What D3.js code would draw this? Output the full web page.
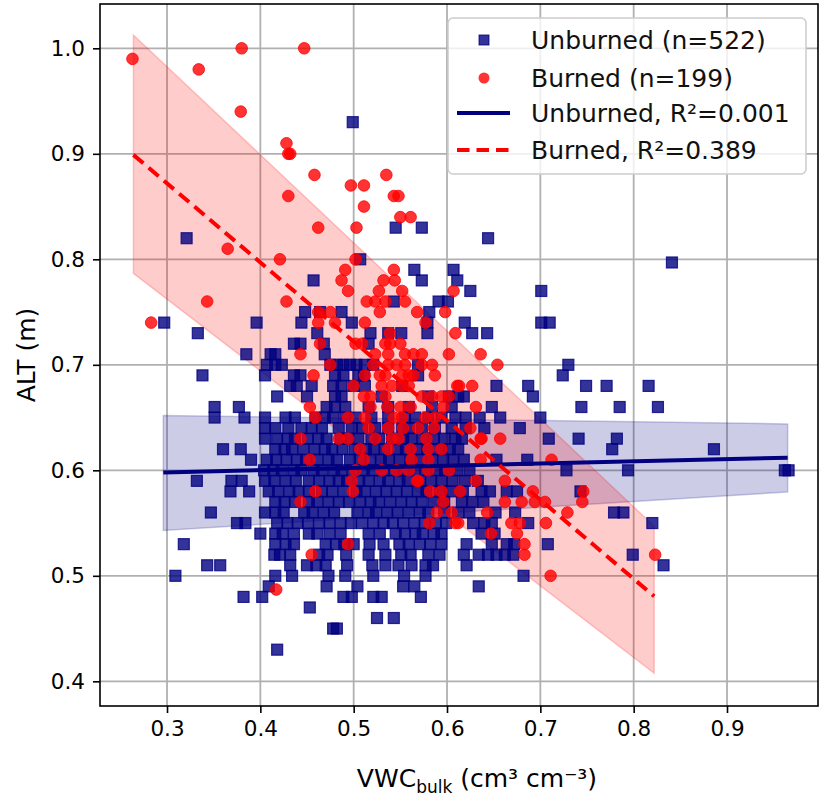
<!DOCTYPE html>
<html>
<head>
<meta charset="utf-8">
<script src="https://d3js.org/d3.v7.min.js"></script>
<style>
  body { margin: 0; background: #fff; }
  svg { font-family: "DejaVu Sans", sans-serif; }
</style>
</head>
<body>
<div id="chart"></div>
<script>
// rows of points: [ALT (m), [VWC values ...]]
const unburned = [
  [0.93, [0.499]],
  [0.83, [0.545, 0.573]],
  [0.82, [0.321, 0.644]],
  [0.80, [0.507]],
  [0.797, [0.841]],
  [0.79, [0.565, 0.607]],
  [0.78, [0.457, 0.573, 0.611]],
  [0.77, [0.625, 0.701]],
  [0.76, [0.543, 0.591, 0.601]],
  [0.75, [0.448, 0.464, 0.487, 0.581]],
  [0.74, [0.297, 0.396, 0.444, 0.498, 0.579, 0.619, 0.701, 0.710]],
  [0.73, [0.333, 0.461, 0.518, 0.537, 0.551, 0.579, 0.627, 0.643]],
  [0.72, [0.436, 0.443, 0.468, 0.516]],
  [0.71, [0.385, 0.411, 0.416, 0.469]],
  [0.70, [0.407, 0.416, 0.423, 0.475, 0.482, 0.489, 0.496, 0.503, 0.512, 0.521, 0.569, 0.730]],
  [0.69, [0.338, 0.405, 0.436, 0.443, 0.480, 0.489, 0.505, 0.511, 0.569, 0.724]],
  [0.68, [0.432, 0.439, 0.455, 0.478, 0.487, 0.500, 0.512, 0.552, 0.653, 0.687, 0.749, 0.771, 0.816]],
  [0.67, [0.418, 0.450, 0.480, 0.487, 0.530, 0.580, 0.602, 0.612, 0.618, 0.692]],
  [0.66, [0.351, 0.377, 0.471, 0.480, 0.491, 0.516, 0.537, 0.559, 0.584, 0.605, 0.648, 0.744, 0.785, 0.826]],
  [0.65, [0.351, 0.383, 0.405, 0.427, 0.437, 0.459, 0.469, 0.478, 0.491, 0.502, 0.519, 0.537, 0.555, 0.566, 0.580, 0.594, 0.609, 0.620, 0.635, 0.657, 0.700]],
  [0.64, [0.405, 0.416, 0.430, 0.444, 0.455, 0.466, 0.484, 0.498, 0.509, 0.523, 0.537, 0.552, 0.559, 0.573, 0.587, 0.605, 0.620, 0.640, 0.678]],
  [0.63, [0.405, 0.418, 0.429, 0.437, 0.451, 0.462, 0.471, 0.486, 0.494, 0.505, 0.519, 0.527, 0.541, 0.553, 0.562, 0.574, 0.586, 0.597, 0.609, 0.616, 0.709, 0.741, 0.782]],
  [0.62, [0.360, 0.379, 0.416, 0.426, 0.434, 0.446, 0.458, 0.469, 0.477, 0.488, 0.501, 0.513, 0.522, 0.533, 0.547, 0.556, 0.568, 0.579, 0.591, 0.603, 0.612, 0.777, 0.886]],
  [0.61, [0.390, 0.407, 0.417, 0.428, 0.439, 0.449, 0.461, 0.473, 0.482, 0.496, 0.507, 0.518, 0.529, 0.538, 0.549, 0.561, 0.572, 0.584, 0.596, 0.607, 0.618, 0.653, 0.686]],
  [0.60, [0.404, 0.414, 0.423, 0.436, 0.444, 0.457, 0.466, 0.479, 0.487, 0.499, 0.511, 0.520, 0.532, 0.544, 0.553, 0.565, 0.577, 0.589, 0.598, 0.611, 0.624, 0.728, 0.794, 0.962, 0.966]],
  [0.59, [0.332, 0.369, 0.380, 0.405, 0.415, 0.427, 0.438, 0.452, 0.463, 0.474, 0.484, 0.493, 0.506, 0.516, 0.528, 0.537, 0.549, 0.558, 0.571, 0.583, 0.594, 0.606, 0.619, 0.633]],
  [0.58, [0.368, 0.388, 0.409, 0.419, 0.431, 0.441, 0.452, 0.466, 0.477, 0.489, 0.503, 0.512, 0.524, 0.535, 0.546, 0.557, 0.569, 0.578, 0.592, 0.604, 0.617, 0.637, 0.646, 0.664, 0.675, 0.743]],
  [0.57, [0.416, 0.426, 0.437, 0.452, 0.461, 0.473, 0.484, 0.495, 0.507, 0.518, 0.527, 0.539, 0.551, 0.562, 0.573, 0.586, 0.597, 0.616, 0.627, 0.639]],
  [0.56, [0.347, 0.405, 0.416, 0.425, 0.447, 0.456, 0.468, 0.479, 0.504, 0.516, 0.524, 0.536, 0.547, 0.559, 0.571, 0.580, 0.597, 0.612, 0.624, 0.652, 0.673, 0.779, 0.789]],
  [0.55, [0.375, 0.384, 0.418, 0.429, 0.440, 0.451, 0.463, 0.474, 0.486, 0.497, 0.509, 0.521, 0.532, 0.542, 0.553, 0.565, 0.576, 0.588, 0.599, 0.628, 0.640, 0.648, 0.687, 0.820]],
  [0.54, [0.400, 0.416, 0.424, 0.436, 0.452, 0.461, 0.474, 0.486, 0.516, 0.528, 0.545, 0.555, 0.566, 0.574, 0.586, 0.594, 0.637, 0.651]],
  [0.53, [0.318, 0.416, 0.427, 0.436, 0.470, 0.481, 0.490, 0.500, 0.517, 0.532, 0.549, 0.559, 0.571, 0.582, 0.594, 0.621, 0.648, 0.664, 0.672, 0.708]],
  [0.52, [0.415, 0.421, 0.432, 0.463, 0.472, 0.492, 0.516, 0.534, 0.551, 0.561, 0.580, 0.592, 0.618, 0.634, 0.644, 0.653, 0.662, 0.671, 0.799]],
  [0.51, [0.343, 0.357, 0.432, 0.450, 0.460, 0.470, 0.493, 0.520, 0.534, 0.548, 0.562, 0.577, 0.585, 0.621, 0.832]],
  [0.50, [0.309, 0.416, 0.434, 0.473, 0.491, 0.521, 0.554, 0.577, 0.682]],
  [0.49, [0.409, 0.471, 0.504, 0.553, 0.565, 0.634]],
  [0.48, [0.382, 0.402, 0.489, 0.498, 0.521, 0.530, 0.572]],
  [0.47, [0.453]],
  [0.46, [0.525, 0.543]],
  [0.45, [0.478, 0.482]],
  [0.43, [0.418]]
];

const burned = [
  [1.00, [0.380, 0.447]],
  [0.99, [0.263]],
  [0.98, [0.334]],
  [0.94, [0.379]],
  [0.91, [0.428]],
  [0.90, [0.430, 0.432]],
  [0.88, [0.458, 0.535]],
  [0.87, [0.497, 0.511]],
  [0.86, [0.430, 0.543, 0.548]],
  [0.85, [0.511]],
  [0.84, [0.550, 0.561]],
  [0.83, [0.462, 0.503]],
  [0.81, [0.365]],
  [0.80, [0.421, 0.502]],
  [0.79, [0.491, 0.543]],
  [0.78, [0.487, 0.532, 0.544]],
  [0.77, [0.494, 0.527, 0.552, 0.607]],
  [0.76, [0.343, 0.428, 0.514, 0.523, 0.534, 0.555]],
  [0.75, [0.462, 0.475, 0.528, 0.568, 0.598]],
  [0.74, [0.283, 0.462, 0.480, 0.512, 0.577]],
  [0.73, [0.539, 0.609]],
  [0.72, [0.464, 0.502, 0.509, 0.534, 0.539, 0.550]],
  [0.71, [0.443, 0.523, 0.537, 0.555, 0.564, 0.573, 0.602, 0.636]],
  [0.70, [0.475, 0.521, 0.537, 0.546, 0.555, 0.573, 0.584, 0.654]],
  [0.69, [0.457, 0.512, 0.528, 0.534, 0.552, 0.559, 0.564, 0.587]],
  [0.68, [0.500, 0.530, 0.541, 0.552, 0.559, 0.611, 0.613, 0.627]],
  [0.67, [0.511, 0.518, 0.534, 0.573, 0.584, 0.594, 0.602]],
  [0.66, [0.453, 0.518, 0.536, 0.550, 0.561, 0.596, 0.631]],
  [0.65, [0.459, 0.494, 0.512, 0.543, 0.552, 0.577, 0.587]],
  [0.64, [0.516, 0.537, 0.553, 0.569, 0.586, 0.625]],
  [0.63, [0.443, 0.484, 0.494, 0.523, 0.541, 0.548, 0.578, 0.636, 0.637, 0.657]],
  [0.62, [0.507, 0.537, 0.561, 0.580, 0.594]],
  [0.61, [0.453, 0.511, 0.562, 0.580, 0.636, 0.712]],
  [0.60, [0.502, 0.530, 0.546, 0.559, 0.580, 0.602]],
  [0.59, [0.498, 0.568, 0.569, 0.631, 0.662]],
  [0.58, [0.459, 0.499, 0.582, 0.594, 0.614, 0.692, 0.746]],
  [0.57, [0.443, 0.596, 0.662, 0.680, 0.694, 0.705, 0.745]],
  [0.56, [0.589, 0.605, 0.643, 0.729]],
  [0.55, [0.581, 0.609, 0.612, 0.669, 0.678, 0.706]],
  [0.54, [0.647, 0.675]],
  [0.53, [0.494, 0.683]],
  [0.52, [0.455, 0.683, 0.823]],
  [0.50, [0.711]],
  [0.487, [0.417]]
];

// fitted lines and their bands, [VWC start, VWC end]
const unburnedFitX = [0.296, 0.965];
const unburnedFitY = [0.598, 0.612];
const unburnedBandHi = [0.652, 0.644];
const unburnedBandLo = [0.543, 0.5795];

const burnedFitX = [0.264, 0.822];
const burnedFitY = [0.899, 0.4806];
const burnedBandHi = [1.0126, 0.547];
const burnedBandLo = [0.7866, 0.4076];

const xTicks = [0.3, 0.4, 0.5, 0.6, 0.7, 0.8, 0.9];
const yTicks = [0.4, 0.5, 0.6, 0.7, 0.8, 0.9, 1.0];

const legendLabels = ["Unburned (n=522)", "Burned (n=199)", "Unburned, R\u00b2=0.001", "Burned, R\u00b2=0.389"];

const navy = "#000080", red = "#ff0000";

let margin = {top: 4, left: 100};
let width = 718, height = 702;

let svg = d3.select("#chart").append("svg")
    .attr("width", 825).attr("height", 800);
let g = svg.append("g").attr("transform", "translate(" + margin.left + "," + margin.top + ")");

let x = d3.scaleLinear().domain([0.2282, 0.9975]).range([0, width]);
let y = d3.scaleLinear().domain([0.3766, 1.042]).range([height, 0]);

// grid
g.selectAll(".gx").data(xTicks).enter().append("line")
    .attr("x1", d => x(d)).attr("x2", d => x(d))
    .attr("y1", 0).attr("y2", height)
    .attr("stroke", "#b0b0b0").attr("stroke-width", 1.8);
g.selectAll(".gy").data(yTicks).enter().append("line")
    .attr("y1", d => y(d)).attr("y2", d => y(d))
    .attr("x1", 0).attr("x2", width)
    .attr("stroke", "#b0b0b0").attr("stroke-width", 1.8);

function band(xs, hi, lo) {
  return [[xs[0], hi[0]], [xs[1], hi[1]], [xs[1], lo[1]], [xs[0], lo[0]]];
}
let area = d3.line().x(d => x(d[0])).y(d => y(d[1]));

g.append("path")
    .attr("d", area(band(unburnedFitX, unburnedBandHi, unburnedBandLo)) + "Z")
    .attr("fill", navy).attr("fill-opacity", 0.2)
    .attr("stroke", navy).attr("stroke-opacity", 0.2).attr("stroke-width", 1.5);
g.append("path")
    .attr("d", area(band(burnedFitX, burnedBandHi, burnedBandLo)) + "Z")
    .attr("fill", red).attr("fill-opacity", 0.2)
    .attr("stroke", red).attr("stroke-opacity", 0.2).attr("stroke-width", 1.5);

function flat(rows) {
  let pts = [];
  rows.forEach(r => r[1].forEach(v => pts.push([v, r[0]])));
  return pts;
}

let sq = 11;
g.selectAll(".ub").data(flat(unburned)).enter().append("rect")
    .attr("x", d => x(d[0]) - sq / 2)
    .attr("y", d => y(d[1]) - sq / 2)
    .attr("width", sq).attr("height", sq)
    .attr("fill", navy).attr("fill-opacity", 0.8)
    .attr("stroke", navy).attr("stroke-opacity", 0.8).attr("stroke-width", 1.2);

g.selectAll(".bu").data(flat(burned)).enter().append("circle")
    .attr("cx", d => x(d[0]))
    .attr("cy", d => y(d[1]))
    .attr("r", 5.8)
    .attr("fill", red).attr("fill-opacity", 0.8)
    .attr("stroke", red).attr("stroke-opacity", 0.8).attr("stroke-width", 1);

let line = d3.line().x(d => x(d[0])).y(d => y(d[1]));
g.append("path")
    .attr("d", line([[unburnedFitX[0], unburnedFitY[0]], [unburnedFitX[1], unburnedFitY[1]]]))
    .attr("stroke", navy).attr("stroke-width", 4).attr("fill", "none");
g.append("path")
    .attr("d", line([[burnedFitX[0], burnedFitY[0]], [burnedFitX[1], burnedFitY[1]]]))
    .attr("stroke", red).attr("stroke-width", 4).attr("fill", "none")
    .attr("stroke-dasharray", "13,7");

// axes
let xAxis = g.append("g").attr("transform", "translate(0," + height + ")")
    .call(d3.axisBottom(x).tickValues(xTicks).tickFormat(d3.format(".1f")).tickSizeOuter(0).tickSize(7).tickPadding(8));
let yAxis = g.append("g")
    .call(d3.axisLeft(y).tickValues(yTicks).tickFormat(d3.format(".1f")).tickSizeOuter(0).tickSize(7).tickPadding(8));
[xAxis, yAxis].forEach(a => {
  a.select(".domain").remove();
  a.selectAll(".tick line").attr("stroke", "#000").attr("stroke-width", 1.6);
  a.selectAll(".tick text").attr("font-size", 21.5).attr("font-family", "DejaVu Sans").attr("fill", "#000");
});

g.append("rect")
    .attr("width", width).attr("height", height)
    .attr("fill", "none").attr("stroke", "#000").attr("stroke-width", 1.6);

// labels
svg.append("text")
    .attr("transform", "translate(35," + (margin.top + height / 2) + ") rotate(-90)")
    .attr("text-anchor", "middle")
    .attr("font-size", 25)
    .text("ALT (m)");

let xl = svg.append("text")
    .attr("x", margin.left + width / 2 + 18).attr("y", 787)
    .attr("text-anchor", "middle")
    .attr("font-size", 25);
xl.append("tspan").text("VWC");
xl.append("tspan").attr("font-size", 17).attr("dy", 6).text("bulk");
xl.append("tspan").attr("dy", -6).text(" (cm\u00b3 cm\u207b\u00b3)");

// legend
let lg = svg.append("g");
lg.append("rect")
    .attr("x", 448).attr("y", 18).attr("width", 358).attr("height", 156)
    .attr("rx", 5)
    .attr("fill", "#fff").attr("fill-opacity", 0.8)
    .attr("stroke", "#cccccc").attr("stroke-width", 1.5);
let rowsY = [40, 78, 113, 150];
lg.append("rect")
    .attr("x", 484 - 5).attr("y", rowsY[0] - 5).attr("width", 10).attr("height", 10)
    .attr("fill", navy).attr("fill-opacity", 0.8)
    .attr("stroke", navy).attr("stroke-opacity", 0.8);
lg.append("circle")
    .attr("cx", 484).attr("cy", rowsY[1]).attr("r", 5.5)
    .attr("fill", red).attr("fill-opacity", 0.8);
lg.append("line")
    .attr("x1", 457).attr("x2", 510).attr("y1", rowsY[2]).attr("y2", rowsY[2])
    .attr("stroke", navy).attr("stroke-width", 4);
lg.append("line")
    .attr("x1", 457).attr("x2", 510).attr("y1", rowsY[3]).attr("y2", rowsY[3])
    .attr("stroke", red).attr("stroke-width", 4).attr("stroke-dasharray", "12.5,7");
lg.selectAll(".lt").data(legendLabels).enter().append("text")
    .attr("x", 531)
    .attr("y", (d, i) => rowsY[i] + 9)
    .attr("font-size", 25)
    .attr("fill", "#111")
    .text(d => d);
</script>
</body>
</html>
